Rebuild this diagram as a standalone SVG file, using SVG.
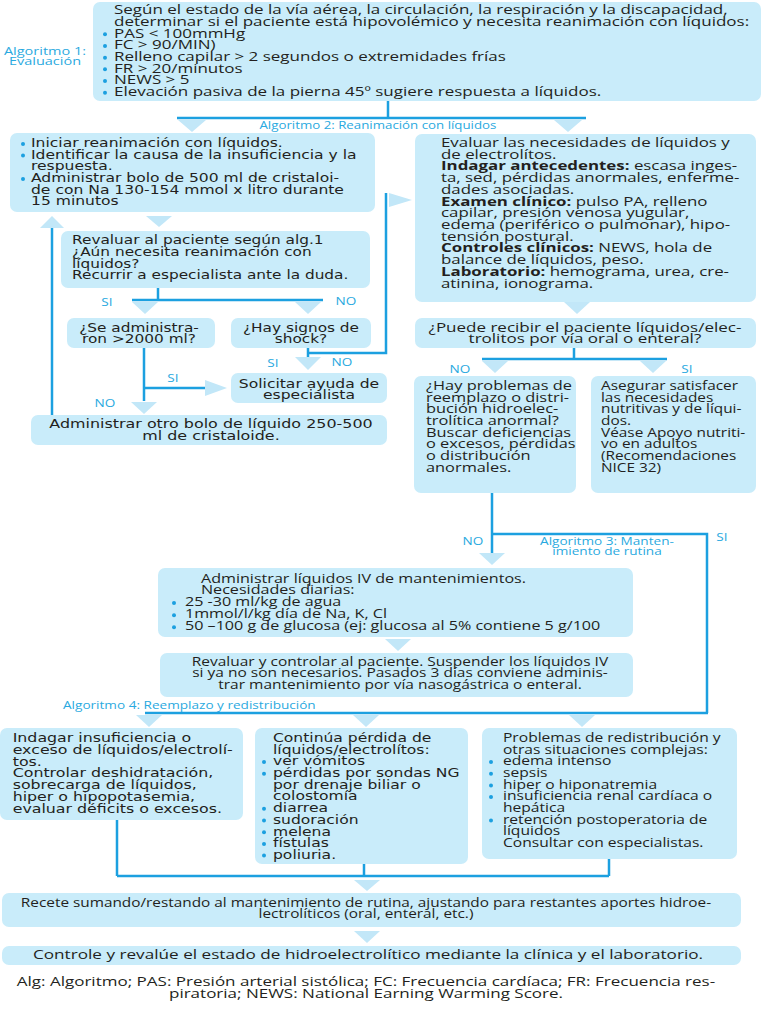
<svg xmlns="http://www.w3.org/2000/svg" width="768" height="1024" viewBox="0 0 768 1024">
<style>
.box{fill:#c9ecfa}
.tri{fill:#c2e7f8}
.ln{stroke:#1ca0e0;stroke-width:2.5;fill:none}
.dot{fill:#1ca0e0}
text{transform-box:fill-box;transform-origin:0 0}
.t{font-family:"Open Sans","Liberation Sans",sans-serif;font-size:12.5px;fill:#231f20}
.v{font-family:"DejaVu Sans","Liberation Sans",sans-serif;font-size:11.8px;fill:#231f20}
.c{text-anchor:middle;transform-origin:50% 0}
.b{font-weight:bold}
.lbl{font-family:"Open Sans","Liberation Sans",sans-serif;font-size:10px;fill:#29a9e0;transform:scaleX(1.36)}
#n1 text{transform:scaleX(1.36)}
#n2 text{transform:scaleX(1.32)}
#n3 text{transform:scaleX(1.30)}
#n4 text,#n5 text{transform:scaleX(1.30)}
#n6 text{transform:scaleX(1.32)}
#n7 text{transform:scaleX(1.35)}
#n8 text{transform:scaleX(1.35)}
#n9 text{transform:scaleX(1.36)}
#n10 text{transform:scaleX(1.31)}
#n11 text{transform:scaleX(1.23)}
#n12 text{transform:scaleX(1.29)}
#n13 text{transform:scaleX(1.24)}
#n14 text{transform:scaleX(1.34)}
#n15 text{transform:scaleX(1.32)}
#n16 text{transform:scaleX(1.25)}
#n17 text{transform:scaleX(1.28)}
#n18 text{transform:scaleX(1.32)}
#footer text{transform:scaleX(1.31)}
</style>
<rect width="768" height="1024" fill="#ffffff"/>

<g id="connectors">
  <path class="ln" d="M388 101V118M177 118H586"/>
  <polygon class="tri" points="178,120 206,120 192,132"/>
  <polygon class="tri" points="554,120 582,120 568,132"/>
  <polygon class="tri" points="146,216 172,216 159,227"/>
  <path class="ln" d="M52 228V416"/>
  <polygon class="tri" points="40,228 64,228 52,216"/>
  <path class="ln" d="M158 288V300M132 300H323"/>
  <polygon class="tri" points="132,302 158,302 145,314"/>
  <polygon class="tri" points="295,302 321,302 308,314"/>
  <path class="ln" d="M144 348V401M144 388H205"/>
  <polygon class="tri" points="205,380 205,396 227,388"/>
  <polygon class="tri" points="131,402 157,402 144,414"/>
  <path class="ln" d="M308 348V357M308 353H386V193"/>
  <polygon class="tri" points="389,193 389,207 412,200"/>
  <polygon class="tri" points="295,357 321,357 308,370"/>
  <polygon class="tri" points="564,302 590,302 577,314"/>
  <path class="ln" d="M574 348V359M482 359H667"/>
  <polygon class="tri" points="482,361 508,361 495,373"/>
  <polygon class="tri" points="640,361 666,361 653,373"/>
  <path class="ln" d="M492 493V553M492 534H707V713M145 713H708"/>
  <polygon class="tri" points="479,553 505,553 492,565"/>
  <polygon class="tri" points="385,639 411,639 398,651"/>
  <polygon class="tri" points="136,715 162,715 149,727"/>
  <polygon class="tri" points="353,715 379,715 366,727"/>
  <polygon class="tri" points="569,715 595,715 582,727"/>
  <path class="ln" d="M117 820V876M364 864V876M609 859V876M117 876H609"/>
  <polygon class="tri" points="354,880 380,880 367,891"/>
  <polygon class="tri" points="354,931 380,931 367,943"/>
  <text class="lbl c" x="45" y="55.5" style="transform:scaleX(1.45)">Algoritmo 1:</text>
  <text class="lbl c" x="45" y="65.5" style="transform:scaleX(1.45)">Evaluación</text>
  <text class="lbl c" x="378" y="129.5" style="transform:scaleX(1.33)">Algoritmo 2: Reanimación con líquidos</text>
  <text class="lbl c" x="107" y="306">SI</text>
  <text class="lbl c" x="346" y="305">NO</text>
  <text class="lbl c" x="173" y="382">SI</text>
  <text class="lbl c" x="105" y="407">NO</text>
  <text class="lbl c" x="273" y="367">SI</text>
  <text class="lbl c" x="342" y="366">NO</text>
  <text class="lbl c" x="460" y="373">NO</text>
  <text class="lbl c" x="687" y="373">SI</text>
  <text class="lbl c" x="473" y="545.5">NO</text>
  <text class="lbl c" x="722" y="541.5">SI</text>
  <text class="lbl c" x="607" y="545.5">Algoritmo 3:  Manten-</text>
  <text class="lbl c" x="607" y="555.5">imiento de rutina</text>
  <text class="lbl" x="63" y="709.5">Algoritmo 4:  Reemplazo y redistribución</text>
</g>

<g id="n1">
  <rect class="box" x="93" y="2" width="668" height="99" rx="7"/>
  <text class="t" x="114" y="14.3">Según el estado de la vía aérea, la circulación, la respiración y la discapacidad,</text>
  <text class="t" x="114" y="26">determinar si el paciente está hipovolémico y necesita reanimación con líquidos:</text>
  <text class="t" x="114" y="37.6">PAS &lt; 100mmHg</text>
  <text class="t" x="114" y="49.3">FC &gt; 90/MIN)</text>
  <text class="t" x="114" y="61">Relleno capilar &gt; 2 segundos o extremidades frías</text>
  <text class="t" x="114" y="72.6">FR &gt; 20/minutos</text>
  <text class="t" x="114" y="84.3">NEWS &gt; 5</text>
  <text class="t" x="114" y="96">Elevación pasiva de la pierna 45º sugiere respuesta a líquidos.</text>
  <circle class="dot" cx="105" cy="34.3" r="2"/>
  <circle class="dot" cx="105" cy="46" r="2"/>
  <circle class="dot" cx="105" cy="57.7" r="2"/>
  <circle class="dot" cx="105" cy="69.3" r="2"/>
  <circle class="dot" cx="105" cy="81" r="2"/>
  <circle class="dot" cx="105" cy="92.7" r="2"/>
</g>

<g id="n2">
  <rect class="box" x="10" y="133" width="365" height="79" rx="7"/>
  <text class="v" x="31" y="147">Iniciar reanimación con líquidos.</text>
  <text class="v" x="31" y="158.6">Identificar la causa de la insuficiencia y la</text>
  <text class="v" x="31" y="170">respuesta.</text>
  <text class="v" x="31" y="182">Administrar bolo de 500 ml de cristaloi-</text>
  <text class="v" x="31" y="193.6">de con Na 130-154 mmol x litro durante</text>
  <text class="v" x="31" y="205.3">15 minutos</text>
  <circle class="dot" cx="23" cy="144" r="2"/>
  <circle class="dot" cx="23" cy="155.6" r="2"/>
  <circle class="dot" cx="23" cy="179" r="2"/>
</g>

<g id="n3">
  <rect class="box" x="61" y="231" width="309" height="57" rx="7"/>
  <text class="v" x="72" y="244.3">Revaluar al paciente según alg.1</text>
  <text class="v" x="72" y="256.3">¿Aún necesita reanimación con</text>
  <text class="v" x="72" y="267.6">líquidos?</text>
  <text class="v" x="72" y="279.3">Recurrir a especialista ante la duda.</text>
</g>

<g id="n4">
  <rect class="box" x="67" y="318" width="148" height="30" rx="7"/>
  <text class="v c" x="139" y="331.6">¿Se administra-</text>
  <text class="v c" x="139" y="343.3">ron &gt;2000 ml?</text>
</g>

<g id="n5">
  <rect class="box" x="231" y="318" width="140" height="30" rx="7"/>
  <text class="v c" x="301" y="331.6">¿Hay signos de</text>
  <text class="v c" x="301" y="343.3">shock?</text>
</g>

<g id="n6">
  <rect class="box" x="231" y="373" width="156" height="30" rx="7"/>
  <text class="v c" x="309" y="387.6">Solicitar ayuda de</text>
  <text class="v c" x="309" y="398.6">especialista</text>
</g>

<g id="n7">
  <rect class="box" x="31" y="415" width="356" height="30" rx="7"/>
  <text class="v c" x="211" y="428.3">Administrar otro bolo de líquido 250-500</text>
  <text class="v c" x="211" y="439.6">ml de cristaloide.</text>
</g>

<g id="n8">
  <rect class="box" x="415" y="134" width="341" height="168" rx="7"/>
  <text class="t" x="441" y="147">Evaluar las necesidades de líquidos y</text>
  <text class="t" x="441" y="158.7">de electrolítos.</text>
  <text class="t" x="441" y="170.4"><tspan class="b">Indagar antecedentes:</tspan> escasa inges-</text>
  <text class="t" x="441" y="182.2">ta, sed, pérdidas anormales, enferme-</text>
  <text class="t" x="441" y="193.9">dades asociadas.</text>
  <text class="t" x="441" y="205.6"><tspan class="b">Examen clínico:</tspan> pulso PA, relleno</text>
  <text class="t" x="441" y="217.3">capilar, presión venosa yugular,</text>
  <text class="t" x="441" y="229">edema (periférico o pulmonar), hipo-</text>
  <text class="t" x="441" y="240.8">tensión postural.</text>
  <text class="t" x="441" y="252.5"><tspan class="b">Controles clínicos:</tspan> NEWS, hola de</text>
  <text class="t" x="441" y="264.2">balance de líquidos, peso.</text>
  <text class="t" x="441" y="275.9"><tspan class="b">Laboratorio:</tspan> hemograma, urea, cre-</text>
  <text class="t" x="441" y="287.6">atinina, ionograma.</text>
</g>

<g id="n9">
  <rect class="box" x="415" y="318" width="341" height="30" rx="7"/>
  <text class="t c" x="585" y="332.3">¿Puede recibir el paciente  líquidos/elec-</text>
  <text class="t c" x="585" y="343.5">trolitos por vía oral o enteral?</text>
</g>

<g id="n10">
  <rect class="box" x="414" y="376" width="162" height="117" rx="7"/>
  <text class="t" x="426" y="390">¿Hay problemas de</text>
  <text class="t" x="426" y="401.7">reemplazo o distri-</text>
  <text class="t" x="426" y="413.4">bución hidroelec-</text>
  <text class="t" x="426" y="425.1">trolítica anormal?</text>
  <text class="t" x="426" y="436.8">Buscar deficiencias</text>
  <text class="t" x="426" y="448.5">o excesos, pérdidas</text>
  <text class="t" x="426" y="460.2">o distribución</text>
  <text class="t" x="426" y="471.9">anormales.</text>
</g>

<g id="n11">
  <rect class="box" x="591" y="376" width="165" height="117" rx="7"/>
  <text class="t" x="601" y="390">Asegurar satisfacer</text>
  <text class="t" x="601" y="401.7">las necesidades</text>
  <text class="t" x="601" y="413.4">nutritivas y de líqui-</text>
  <text class="t" x="601" y="425.1">dos.</text>
  <text class="t" x="601" y="436.8">Véase Apoyo nutriti-</text>
  <text class="t" x="601" y="448.5">vo en adultos</text>
  <text class="t" x="601" y="460.2">(Recomendaciones</text>
  <text class="t" x="601" y="471.9">NICE 32)</text>
</g>

<g id="n12">
  <rect class="box" x="158" y="568" width="475" height="69" rx="7"/>
  <text class="t" x="201" y="582.6">Administrar líquidos IV de mantenimientos.</text>
  <text class="t" x="201" y="594.3">Necesidades diarias:</text>
  <text class="t" x="185" y="606">25 -30 ml/kg de agua</text>
  <text class="t" x="185" y="618.3">1mmol/l/kg día de Na, K, Cl</text>
  <text class="t" x="185" y="630.3">50 –100 g de glucosa (ej: glucosa al 5% contiene 5 g/100</text>
  <circle class="dot" cx="174" cy="603" r="2"/>
  <circle class="dot" cx="174" cy="615.3" r="2"/>
  <circle class="dot" cx="174" cy="627.3" r="2"/>
</g>

<g id="n13">
  <rect class="box" x="160" y="653" width="473" height="44" rx="7"/>
  <text class="t c" x="400" y="666">Revaluar y controlar al paciente. Suspender los líquidos IV</text>
  <text class="t c" x="400" y="677">si ya no son necesarios. Pasados 3 días conviene adminis-</text>
  <text class="t c" x="400" y="688.6">trar mantenimiento por vía nasogástrica o enteral.</text>
</g>

<g id="n14">
  <rect class="box" x="0" y="728" width="243" height="92" rx="7"/>
  <text class="v" x="12.7" y="742">Indagar insuficiencia o</text>
  <text class="v" x="12.7" y="753.8">exceso de líquidos/electrolí-</text>
  <text class="v" x="12.7" y="765.7">tos.</text>
  <text class="v" x="12.7" y="777.5">Controlar deshidratación,</text>
  <text class="v" x="12.7" y="789.4">sobrecarga de líquidos,</text>
  <text class="v" x="12.7" y="801.2">hiper o hipopotasemia,</text>
  <text class="v" x="12.7" y="813">evaluar déficits o excesos.</text>
</g>

<g id="n15">
  <rect class="box" x="255" y="728" width="213" height="136" rx="7"/>
  <text class="v" x="273" y="742">Continúa pérdida de</text>
  <text class="v" x="273" y="753.7">líquidos/electrolítos:</text>
  <text class="v" x="273" y="765.4">ver vómitos</text>
  <text class="v" x="273" y="777.1">pérdidas por sondas NG</text>
  <text class="v" x="273" y="788.8">por drenaje biliar  o</text>
  <text class="v" x="273" y="800.5">colostomía</text>
  <text class="v" x="273" y="812.2">diarrea</text>
  <text class="v" x="273" y="823.9">sudoración</text>
  <text class="v" x="273" y="835.6">melena</text>
  <text class="v" x="273" y="847.3">fístulas</text>
  <text class="v" x="273" y="859">poliuria.</text>
  <circle class="dot" cx="264" cy="762" r="2"/>
  <circle class="dot" cx="264" cy="773.7" r="2"/>
  <circle class="dot" cx="264" cy="808.8" r="2"/>
  <circle class="dot" cx="264" cy="820.5" r="2"/>
  <circle class="dot" cx="264" cy="832.2" r="2"/>
  <circle class="dot" cx="264" cy="843.9" r="2"/>
  <circle class="dot" cx="264" cy="855.6" r="2"/>
</g>

<g id="n16">
  <rect class="box" x="482" y="728" width="255" height="131" rx="7"/>
  <text class="t" x="503" y="742">Problemas de redistribución y</text>
  <text class="t" x="503" y="753.7">otras situaciones complejas:</text>
  <text class="t" x="503" y="765.3">edema intenso</text>
  <text class="t" x="503" y="777">sepsis</text>
  <text class="t" x="503" y="788.7">hiper o hiponatremia</text>
  <text class="t" x="503" y="800.4">insuficiencia renal cardíaca o</text>
  <text class="t" x="503" y="812">hepática</text>
  <text class="t" x="503" y="823.7">retención postoperatoria de</text>
  <text class="t" x="503" y="835.4">líquidos</text>
  <text class="t" x="503" y="847">Consultar con especialistas.</text>
  <circle class="dot" cx="491" cy="762" r="2"/>
  <circle class="dot" cx="491" cy="773.7" r="2"/>
  <circle class="dot" cx="491" cy="785.4" r="2"/>
  <circle class="dot" cx="491" cy="797.1" r="2"/>
  <circle class="dot" cx="491" cy="820.4" r="2"/>
</g>

<g id="n17">
  <rect class="box" x="2" y="893" width="739" height="34" rx="7"/>
  <text class="t c" x="366" y="907.5" style="font-size:12px">Recete sumando/restando al mantenimiento de rutina, ajustando para restantes aportes hidroe-</text>
  <text class="t c" x="366" y="918.5" style="font-size:12px">lectrolíticos (oral, enteral, etc.)</text>
</g>

<g id="n18">
  <rect class="box" x="2" y="946" width="739" height="19" rx="7"/>
  <text class="t c" x="368" y="959.5" style="font-size:13px">Controle y revalúe  el estado de hidroelectrolítico mediante la clínica y el laboratorio.</text>
</g>

<g id="footer">
  <text class="t c" x="366" y="986" style="font-size:13px">Alg: Algoritmo; PAS: Presión arterial sistólica; FC: Frecuencia cardíaca; FR: Frecuencia res-</text>
  <text class="t c" x="366" y="997.6" style="font-size:13px">piratoria; NEWS: National Earning Warming Score.</text>
</g>
</svg>
